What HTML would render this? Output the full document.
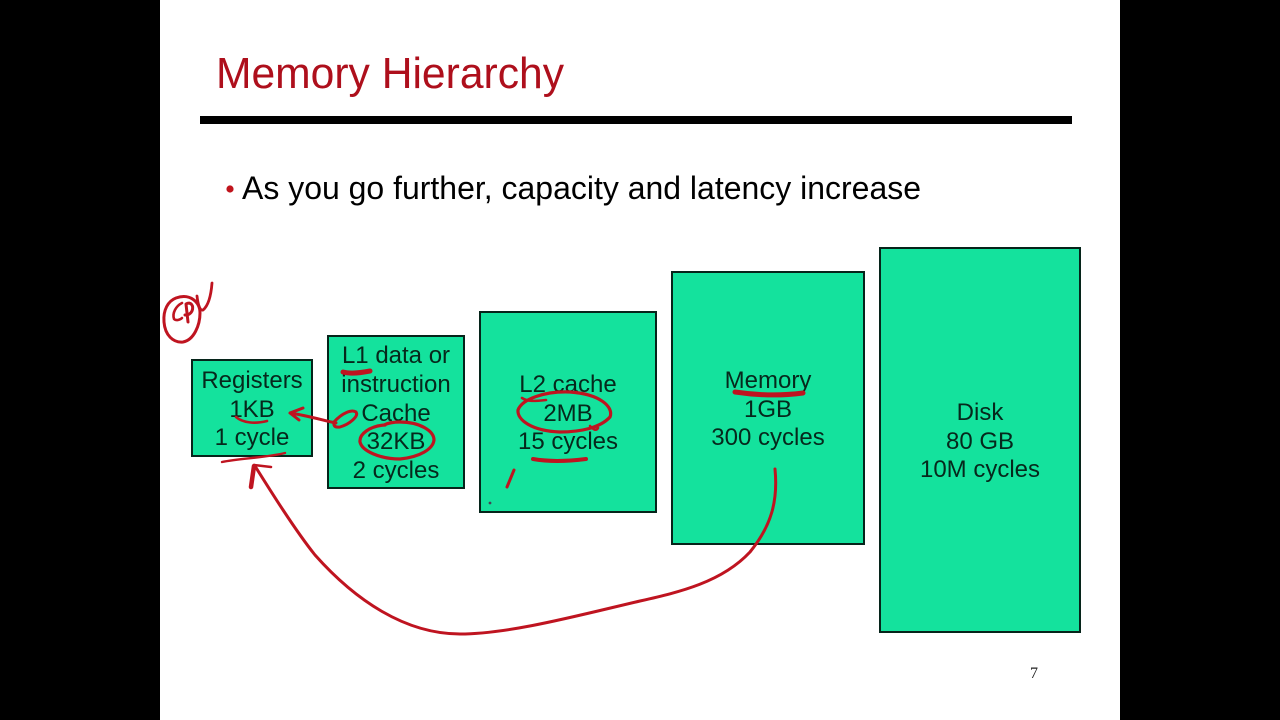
<!DOCTYPE html>
<html>
<head>
<meta charset="utf-8">
<style>
html,body{margin:0;padding:0;width:1280px;height:720px;background:#000;overflow:hidden}
svg{display:block}
text{font-family:"Liberation Sans",sans-serif}
.b{fill:#14e29d;stroke:#06241a;stroke-width:2}
.t{font-size:24px;fill:#06281c;text-anchor:middle}
.r{fill:none;stroke:#bf1420;stroke-linecap:round;stroke-linejoin:round}
</style>
</head>
<body>
<svg width="1280" height="720" viewBox="0 0 1280 720" xmlns="http://www.w3.org/2000/svg">
<rect x="0" y="0" width="1280" height="720" fill="#000"/>
<rect x="160" y="0" width="960" height="720" fill="#fff"/>
<text x="216" y="88" font-size="44" fill="#ae0f1c" textLength="348" lengthAdjust="spacingAndGlyphs">Memory Hierarchy</text>
<rect x="200" y="116" width="872" height="8" fill="#000"/>
<circle cx="230" cy="189" r="3.6" fill="#c0141c"/>
<text x="242" y="199" font-size="32" fill="#000" textLength="679" lengthAdjust="spacingAndGlyphs">As you go further, capacity and latency increase</text>

<rect class="b" x="192" y="360" width="120" height="96"/>
<rect class="b" x="328" y="336" width="136" height="152"/>
<rect class="b" x="480" y="312" width="176" height="200"/>
<rect class="b" x="672" y="272" width="192" height="272"/>
<rect class="b" x="880" y="248" width="200" height="384"/>

<text class="t" x="252" y="388">Registers</text>
<text class="t" x="252" y="417">1KB</text>
<text class="t" x="252" y="445">1 cycle</text>

<text class="t" x="396" y="363">L1 data or</text>
<text class="t" x="396" y="392">instruction</text>
<text class="t" x="396" y="421">Cache</text>
<text class="t" x="396" y="449">32KB</text>
<text class="t" x="396" y="478">2 cycles</text>

<text class="t" x="568" y="392">L2 cache</text>
<text class="t" x="568" y="421">2MB</text>
<text class="t" x="568" y="449">15 cycles</text>

<text class="t" x="768" y="388">Memory</text>
<text class="t" x="768" y="417">1GB</text>
<text class="t" x="768" y="445">300 cycles</text>

<text class="t" x="980" y="420">Disk</text>
<text class="t" x="980" y="449">80 GB</text>
<text class="t" x="980" y="477">10M cycles</text>

<text x="1034" y="678" font-size="16" fill="#222" text-anchor="middle" style='font-family:"Liberation Serif",serif'>7</text>

<!-- CPU annotation -->
<path class="r" stroke-width="3" d="M176 298C168 301 163 310 164 322C165 335 173 343 183 342C194 340 200 325 200 313C200 302 190 293 176 298"/>
<path class="r" stroke-width="2.6" d="M182 303C176 306 172 313 174 319C176 321 180 320 182 318"/>
<path class="r" stroke-width="3" d="M188 322L186 304C191 301 194 306 192 311C190 315 187 315 185 315"/>
<path class="r" stroke-width="2.8" d="M197 296C198 305 200 311 203 310C208 306 211 296 212 283"/>

<!-- Registers marks -->
<path class="r" stroke-width="2.6" d="M236 417C243 423 255 424 267 421"/>
<path class="r" stroke-width="2.4" d="M222 462C240 458 265 458 285 453"/>

<!-- L1 marks -->
<path class="r" stroke-width="5" d="M343 372C350 374 360 373 370 371"/>
<path class="r" stroke-width="3" d="M290 413L303 408M290 413L299 420M290 413C310 416 325 421 336 423"/>
<path class="r" stroke-width="3" d="M334 422C342 413 352 409 356 412C359 416 350 424 340 427C333 428 332 423 337 419"/>
<path class="r" stroke-width="3.2" d="M385 425C370 426 359 434 360 442C362 451 380 459 400 459C420 457 433 449 434 440C434 431 420 422 400 422C392 422 388 423 384 425"/>

<!-- L2 marks -->
<path class="r" stroke-width="2.6" d="M522 398C528 402 536 401 546 400"/>
<path class="r" stroke-width="3.2" d="M570 392C545 391 522 399 518 410C517 420 532 431 560 432C580 432 600 428 610 417C614 407 600 394 570 392"/>
<path class="r" stroke-width="2.6" d="M590 426C594 430 596 431 598 428"/>
<path class="r" stroke-width="4" d="M533 459C550 462 570 461 586 459"/>
<path class="r" stroke-width="3" d="M514 470L507 487"/>
<circle cx="490" cy="503" r="1.4" fill="#445"/>

<!-- Memory underline -->
<path class="r" stroke-width="5" d="M735 392C755 395 780 396 803 393"/>

<!-- Long arrow -->
<path class="r" stroke-width="3" d="M775 469C778 500 772 525 750 552C722 582 680 592 640 601C580 615 510 634 460 634C405 634 355 600 315 555C295 530 270 490 255 466"/>
<path class="r" stroke-width="4.5" d="M254 466L251 487"/>
<path class="r" stroke-width="2.6" d="M254 465L271 467"/>
</svg>
</body>
</html>
